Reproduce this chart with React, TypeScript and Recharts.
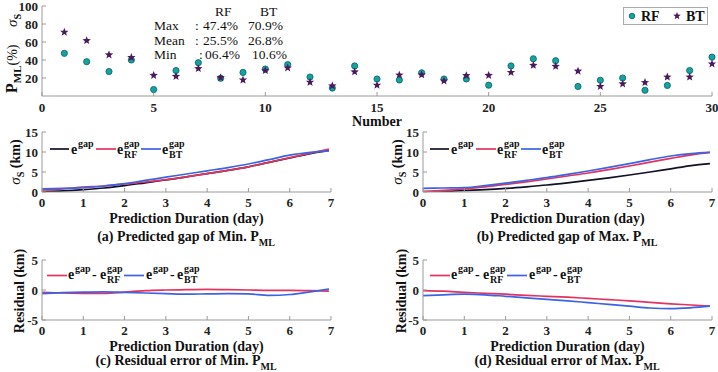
import React from 'react';
import { ScatterChart, Scatter, XAxis, YAxis, LineChart, Line } from 'recharts';

// P_ML per case (%)
const caseNumbers = [1, 2, 3, 4, 5, 6, 7, 8, 9, 10, 11, 12, 13, 14, 15, 16, 17, 18, 19, 20, 21, 22, 23, 24, 25, 26, 27, 28, 29, 30];
const rfPml = [47.4, 38.1, 27.2, 40.0, 7.2, 28.3, 37.0, 19.7, 26.2, 30.0, 34.9, 21.1, 8.8, 33.4, 18.9, 17.8, 25.8, 18.9, 18.9, 12.0, 33.4, 41.4, 39.2, 10.6, 17.5, 20.0, 6.4, 11.7, 28.3, 43.2];
const btPml = [70.9, 61.6, 45.7, 42.8, 22.9, 21.8, 30.5, 20.4, 17.8, 28.3, 31.2, 15.3, 11.3, 26.9, 12.0, 23.3, 23.6, 16.7, 22.6, 22.9, 26.2, 34.1, 33.0, 27.6, 10.6, 13.5, 15.0, 21.1, 21.1, 35.6];

// prediction duration (day)
const days = [0, 0.5, 1, 1.5, 2, 2.5, 3, 3.5, 4, 4.5, 5, 5.5, 6, 6.5, 6.95];

// (a) min P_ML gap (km)
const minGap = [0.1, 0.3, 0.6, 1.0, 1.6, 2.3, 3.0, 3.8, 4.6, 5.4, 6.3, 7.4, 8.5, 9.6, 10.4];
const minGapRF = [0.5, 0.8, 1.2, 1.5, 2.0, 2.5, 3.1, 3.8, 4.6, 5.4, 6.3, 7.4, 8.6, 9.7, 10.7];
const minGapBT = [0.8, 0.9, 1.1, 1.5, 2.1, 2.9, 3.7, 4.5, 5.3, 6.1, 7.0, 8.1, 9.2, 9.9, 10.3];

// (b) max P_ML gap (km)
const maxGap = [0.0, 0.15, 0.4, 0.6, 0.9, 1.3, 1.75, 2.3, 2.9, 3.55, 4.25, 5.0, 5.8, 6.6, 7.1];
const maxGapRF = [0.15, 0.4, 0.8, 1.3, 1.9, 2.55, 3.25, 4.0, 4.75, 5.6, 6.5, 7.45, 8.4, 9.3, 9.9];
const maxGapBT = [0.9, 1.0, 1.1, 1.6, 2.2, 2.9, 3.6, 4.4, 5.25, 6.15, 7.1, 8.1, 9.0, 9.6, 9.9];

// (c) residuals, min P_ML
const minResRF = [-0.4, -0.5, -0.55, -0.55, -0.35, -0.1, 0, 0.05, 0.1, 0.05, 0, -0.05, -0.05, -0.1, -0.2];
const minResBT = [-0.6, -0.45, -0.35, -0.3, -0.4, -0.5, -0.6, -0.7, -0.65, -0.6, -0.65, -0.9, -0.75, -0.3, 0.15];

// (d) residuals, max P_ML
const maxResRF = [-0.1, -0.2, -0.4, -0.55, -0.7, -0.9, -1.05, -1.2, -1.4, -1.6, -1.8, -2.05, -2.3, -2.5, -2.7];
const maxResBT = [-0.95, -0.8, -0.7, -0.8, -1.05, -1.3, -1.55, -1.8, -2.1, -2.4, -2.7, -3.0, -3.1, -2.95, -2.7];

const FONT = "'Liberation Serif', 'Times New Roman', serif";
const AXIS = '#9a9a9a';
const RF_COLOR = '#14a3a3';
const BT_COLOR = '#4a1a5e';
const BLACK = '#111128';
const RED = '#e3335e';
const BLUE = '#3d62e6';

const tickStyle = { fill: '#222', fontSize: 13, fontWeight: 'bold', fontFamily: FONT };

const CircleDot = (props: any) => (
  <circle cx={props.cx} cy={props.cy} r={3.1} fill={RF_COLOR} stroke="#0b5f63" strokeWidth={0.8} />
);

const starPoints = (cx: number, cy: number, R: number, r: number) => {
  const pts: string[] = [];
  for (let i = 0; i < 10; i++) {
    const a = -Math.PI / 2 + (i * Math.PI) / 5;
    const rad = i % 2 === 0 ? R : r;
    pts.push(`${cx + rad * Math.cos(a)},${cy + rad * Math.sin(a)}`);
  }
  return pts.join(' ');
};

const StarDot = (props: any) => <polygon points={starPoints(props.cx, props.cy, 4.4, 1.9)} fill={BT_COLOR} />;

function LinePanel({ x0, x1, y0, y1, data, lines, domain, ticks }: any) {
  const width = x1 - x0 + 42 + 6;
  const height = y1 - y0 + 12 + 30;
  return (
    <div style={{ position: 'absolute', left: x0 - 42, top: y0 - 12 }}>
      <LineChart width={width} height={height} data={data} margin={{ top: 12, right: 6, bottom: 10, left: 12 }}>
        <XAxis
          type="number" dataKey="day" domain={[0, 7]} ticks={[0, 1, 2, 3, 4, 5, 6, 7]} interval={0}
          height={20} stroke={AXIS} tickSize={-4} tickMargin={10} tick={tickStyle} allowDataOverflow
        />
        <YAxis
          type="number" domain={domain} ticks={ticks} width={30} stroke={AXIS} interval={0}
          tickSize={-4} tickMargin={8} tick={tickStyle} allowDataOverflow
        />
        {lines.map((l: any) => (
          <Line key={l.key} type="monotone" dataKey={l.key} stroke={l.color} strokeWidth={1.7} dot={false} isAnimationActive={false} />
        ))}
      </LineChart>
    </div>
  );
}

function ESym({ x, y, sub }: { x: number; y: number; sub?: string }) {
  return (
    <g fontFamily={FONT} fontWeight="bold" fill="#111">
      <text x={x} y={y} fontSize={14}>e</text>
      <text x={x + 7} y={y - 7} fontSize={10}>gap</text>
      {sub && <text x={x + 7} y={y + 4} fontSize={10}>{sub}</text>}
    </g>
  );
}

function Caption({ cx, y, text }: { cx: number; y: number; text: string }) {
  return (
    <text x={cx} y={y} textAnchor="middle" fontFamily={FONT} fontWeight="bold" fontSize={14} fill="#111">
      {text}
      <tspan fontSize={10} dy={5}>ML</tspan>
    </text>
  );
}

export default function App() {
  const rfData = caseNumbers.map((n, i) => ({ x: n, y: rfPml[i] }));
  const btData = caseNumbers.map((n, i) => ({ x: n, y: btPml[i] }));
  const minData = days.map((d, i) => ({ day: d, e: minGap[i], rf: minGapRF[i], bt: minGapBT[i] }));
  const maxData = days.map((d, i) => ({ day: d, e: maxGap[i], rf: maxGapRF[i], bt: maxGapBT[i] }));
  const minRes = days.map((d, i) => ({ day: d, rf: minResRF[i], bt: minResBT[i] }));
  const maxRes = days.map((d, i) => ({ day: d, rf: maxResRF[i], bt: maxResBT[i] }));

  const gapLines = [
    { key: 'e', color: BLACK },
    { key: 'rf', color: RED },
    { key: 'bt', color: BLUE },
  ];
  const resLines = [
    { key: 'rf', color: RED },
    { key: 'bt', color: BLUE },
  ];

  return (
    <div style={{ position: 'absolute', left: 0, top: 0, width: 718, height: 372, overflow: 'hidden', background: '#fff' }}>
      <div style={{ position: 'absolute', left: 0, top: 0 }}>
        <ScatterChart width={718} height={130} margin={{ top: 6, right: 6, bottom: 14, left: 12 }}>
          <XAxis
            type="number" dataKey="x" domain={[0, 30]} ticks={[0, 5, 10, 15, 20, 25, 30]} interval={0}
            height={20} stroke={AXIS} tickSize={-4} tickMargin={11} tick={tickStyle}
          />
          <YAxis
            type="number" dataKey="y" domain={[0, 100]} ticks={[20, 40, 60, 80, 100]} interval={0}
            width={30} stroke={AXIS} tickSize={-4} tickMargin={8} tick={tickStyle}
          />
          <Scatter data={rfData} shape={CircleDot} isAnimationActive={false} />
          <Scatter data={btData} shape={StarDot} isAnimationActive={false} />
        </ScatterChart>
      </div>

      <LinePanel x0={42} x1={331} y0={132} y1={192} data={minData} lines={gapLines} domain={[0, 15]} ticks={[0, 5, 10, 15]} />
      <LinePanel x0={423} x1={712} y0={132} y1={192} data={maxData} lines={gapLines} domain={[0, 15]} ticks={[0, 5, 10, 15]} />
      <LinePanel x0={42} x1={331} y0={260} y1={320} data={minRes} lines={resLines} domain={[-5, 5]} ticks={[-5, 0, 5]} />
      <LinePanel x0={423} x1={712} y0={260} y1={320} data={maxRes} lines={resLines} domain={[-5, 5]} ticks={[-5, 0, 5]} />

      <svg width={718} height={372} style={{ position: 'absolute', left: 0, top: 0, pointerEvents: 'none' }}>
        {/* top panel y label */}
        <text transform="translate(17,93) rotate(-90)" fontFamily={FONT} fill="#111">
          <tspan fontSize={16} fontWeight="bold">P</tspan>
          <tspan fontSize={11} fontWeight="bold" dy={4}>ML</tspan>
          <tspan fontSize={14} dy={-4}>(%)</tspan>
        </text>
        <text transform="translate(17,27) rotate(-90)" fontFamily={FONT} fill="#111">
          <tspan fontSize={15} fontStyle="italic">σ</tspan>
          <tspan fontSize={10} fontWeight="bold" dy={4}>S</tspan>
        </text>
        <text x={377} y={126} textAnchor="middle" fontFamily={FONT} fontWeight="bold" fontSize={14} fill="#111">Number</text>

        {/* stats table */}
        <g fontFamily={FONT} fontSize={13.5} fill="#111">
          <text x={215} y={16}>RF</text>
          <text x={260} y={16}>BT</text>
          <text x={154} y={30}>Max</text>
          <text x={195} y={30}>:</text>
          <text x={203} y={30}>47.4%</text>
          <text x={248} y={30}>70.9%</text>
          <text x={154} y={45}>Mean</text>
          <text x={195} y={45}>:</text>
          <text x={203} y={45}>25.5%</text>
          <text x={248} y={45}>26.8%</text>
          <text x={154} y={59}>Min</text>
          <text x={199} y={59}>:</text>
          <text x={205} y={59}>06.4%</text>
          <text x={252} y={59}>10.6%</text>
        </g>

        {/* scatter legend */}
        <rect x={623.5} y={7.5} width={84} height={17} fill="#fff" stroke="#aaa" />
        <circle cx={632} cy={16} r={2.8} fill={RF_COLOR} stroke="#0b5f63" strokeWidth={0.8} />
        <text x={641} y={21} fontFamily={FONT} fontWeight="bold" fontSize={14} fill="#111">RF</text>
        <polygon points={starPoints(677, 16, 4, 1.7)} fill={BT_COLOR} />
        <text x={686} y={21} fontFamily={FONT} fontWeight="bold" fontSize={14} fill="#111">BT</text>

        {/* middle legends */}
        {[0, 380].map((dx) => (
          <g key={dx}>
            <line x1={50 + dx} x2={69 + dx} y1={149} y2={149} stroke={BLACK} strokeWidth={1.7} />
            <ESym x={71 + dx} y={154} />
            <line x1={96 + dx} x2={116 + dx} y1={149} y2={149} stroke={RED} strokeWidth={1.7} />
            <ESym x={117 + dx} y={154} sub="RF" />
            <line x1={141 + dx} x2={161 + dx} y1={149} y2={149} stroke={BLUE} strokeWidth={1.7} />
            <ESym x={162 + dx} y={154} sub="BT" />
          </g>
        ))}

        {/* bottom legends */}
        {[0, 383].map((dx) => (
          <g key={dx}>
            <line x1={47 + dx} x2={67 + dx} y1={275.5} y2={275.5} stroke={RED} strokeWidth={1.7} />
            <ESym x={68 + dx} y={279} />
            <text x={92 + dx} y={279} fontFamily={FONT} fontWeight="bold" fontSize={14} fill="#111">-</text>
            <ESym x={100 + dx} y={279} sub="RF" />
            <line x1={124 + dx} x2={144 + dx} y1={275.5} y2={275.5} stroke={BLUE} strokeWidth={1.7} />
            <ESym x={146 + dx} y={279} />
            <text x={170 + dx} y={279} fontFamily={FONT} fontWeight="bold" fontSize={14} fill="#111">-</text>
            <ESym x={177 + dx} y={279} sub="BT" />
          </g>
        ))}

        {/* y labels of lower panels */}
        {[20, 402].map((x) => (
          <text key={x} transform={`translate(${x},162) rotate(-90)`} textAnchor="middle" fontFamily={FONT} fill="#111">
            <tspan fontSize={15} fontStyle="italic">σ</tspan>
            <tspan fontSize={10} fontWeight="bold" dy={4}>S</tspan>
            <tspan fontSize={14} fontWeight="bold" dy={-4}> (km)</tspan>
          </text>
        ))}
        {[24, 406].map((x) => (
          <text key={x} transform={`translate(${x},291) rotate(-90)`} textAnchor="middle" fontFamily={FONT} fontWeight="bold" fontSize={14} fill="#111">
            Residual (km)
          </text>
        ))}

        {/* x labels and captions */}
        {[186.5, 567.5].map((cx) => (
          <g key={cx}>
            <text x={cx} y={223} textAnchor="middle" fontFamily={FONT} fontWeight="bold" fontSize={14} fill="#111">Prediction Duration (day)</text>
            <text x={cx} y={351} textAnchor="middle" fontFamily={FONT} fontWeight="bold" fontSize={14} fill="#111">Prediction Duration (day)</text>
          </g>
        ))}
        <Caption cx={186} y={241} text="(a) Predicted gap of Min. P" />
        <Caption cx={567} y={241} text="(b) Predicted gap of Max. P" />
        <Caption cx={186} y={365} text="(c) Residual error of Min. P" />
        <Caption cx={567} y={365} text="(d) Residual error of  Max. P" />
      </svg>
    </div>
  );
}
